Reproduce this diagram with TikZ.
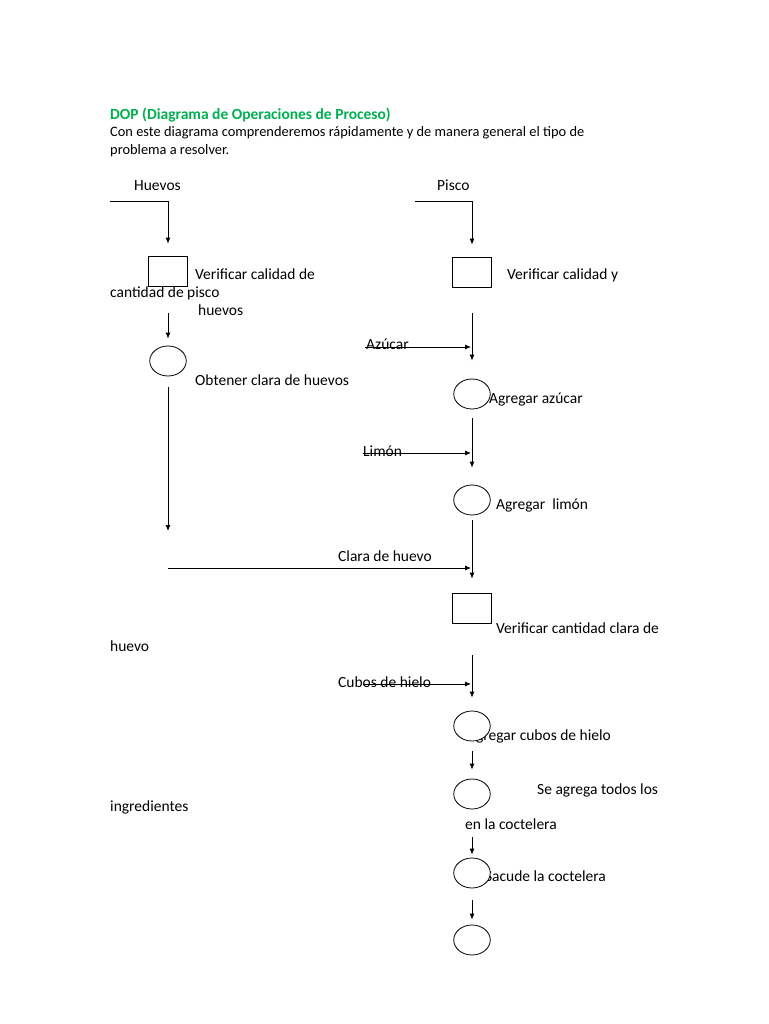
\documentclass[tikz,border=0pt]{standalone}
\usepackage{fontspec}
\setmainfont{Carlito}
\usepackage{tikz}
\usetikzlibrary{arrows.meta, positioning, calc, shapes.geometric}
\definecolor{dopgreen}{RGB}{0, 176, 80}

\begin{document}
\begin{tikzpicture}[
  x=1pt, y=-1pt,
  every node/.style={font=\fontsize{15.5}{18}\selectfont},
  txt/.style={anchor=base west, inner sep=0pt},
  head/.style={txt, font=\fontsize{14.4}{18}\selectfont},
  insp/.style={draw, line width=0.8pt, minimum width=39pt, minimum height=30pt, inner sep=0pt},
  oper/.style={draw, fill=white, ellipse, line width=0.8pt, minimum width=36.5pt, minimum height=30pt, inner sep=0pt},
  flow/.style={line width=0.8pt, -{Latex[length=6pt, width=5pt]}},
]
  \useasboundingbox (0,0) rectangle (768,1024);

  % encabezado
  \node[txt, text=dopgreen, font=\fontsize{15.5}{18}\selectfont\bfseries] (titulo) at (110,120) {DOP (Diagrama de Operaciones de Proceso)};
  \node[head] (intro1) at (110,137) {Con este diagrama comprenderemos rápidamente y de manera general el tipo de};
  \node[head] (intro2) at (110,155) {problema a resolver.};

  % columna huevos
  \node[txt] (huevos) at (134,191) {Huevos};
  \node[insp] (sqHuevos) at (168,271) {};
  \node[txt] (lblVerHuevos) at (195,279) {Verificar calidad de};
  \node[txt] (lblCantPisco) at (110,297) {cantidad de pisco};
  \node[txt] (lblHuevos2) at (198,315) {huevos};
  \node[oper] (opClara) at (168,361) {};
  \node[txt] (lblClara) at (195,385) {Obtener clara de huevos};
  \coordinate (inHuevos) at (110,201);
  \coordinate (finHuevos) at (168,531);
  \coordinate (iniClara) at (168,568);

  % columna pisco
  \node[txt] (pisco) at (437,191) {Pisco};
  \node[insp] (sqPisco) at (472,272) {};
  \node[txt] (lblVerPisco) at (507,279) {Verificar calidad y};
  \node[txt] (azucar) at (366,349) {Azúcar};
  \node[oper] (opAzucar) at (472,394) {};
  \node[txt] (lblAzucar) at (489,403) {Agregar azúcar};
  \node[txt] (limon) at (363,456) {Limón};
  \node[oper] (opLimon) at (472,500) {};
  \node[txt] (lblLimon) at (496,509) {Agregar\ \ limón};
  \node[txt] (claraHuevo) at (338,561) {Clara de huevo};
  \node[insp] (sqClara) at (472,608) {};
  \node[txt] (lblVerClara) at (496,633) {Verificar cantidad clara de};
  \node[txt] (lblHuevo3) at (110,651) {huevo};
  \node[txt] (hielo) at (338,687) {Cubos de hielo};
  \node[txt, anchor=base east] (lblHielo) at (611,740) {Agregar cubos de hielo};
  \node[oper] (opHielo) at (472,726) {};
  \node[txt] (lblTodos) at (537,794) {Se agrega todos los};
  \node[txt] (lblIngr) at (110,811) {ingredientes};
  \node[oper] (opTodos) at (472,794) {};
  \node[txt] (lblCoct) at (465,829) {en la coctelera};
  \node[txt, anchor=base east] (lblSacude) at (606,881) {Sacude la coctelera};
  \node[oper] (opSacude) at (472,873) {};
  \node[oper] (opFin) at (472,940) {};
  \coordinate (inPisco) at (415,201);

  % flechas izquierda
  \draw[flow] (inHuevos) -| ([yshift=12pt]sqHuevos.north);
  \draw[flow] ([yshift=-27pt]sqHuevos.south) -- ([yshift=7pt]opClara.north);
  \draw[flow] ([yshift=-11pt]opClara.south) -- (finHuevos);
  \draw[flow] (iniClara) -- ([xshift=-1pt]opLimon.center |- iniClara);

  % flechas derecha
  \draw[flow] (inPisco) -| ([yshift=12pt]sqPisco.north);
  \draw[flow] ([yshift=-26pt]sqPisco.south) -- ([yshift=18pt]opAzucar.north);
  \draw[flow] ([xshift=-1pt, yshift=2pt]azucar.base west) -- ([xshift=-1pt, yshift=2pt]opAzucar.center |- azucar.base west);
  \draw[flow] ([yshift=-9pt]opAzucar.south) -- ([yshift=17pt]opLimon.north);
  \draw[flow] ([yshift=3pt]limon.base west) -- ([xshift=-1pt, yshift=3pt]opLimon.center |- limon.base west);
  \draw[flow] ([yshift=-5pt]opLimon.south) -- ([yshift=14pt]sqClara.north);
  \draw[flow] ([yshift=-32pt]sqClara.south) -- ([yshift=13pt]opHielo.north);
  \draw[flow] ([xshift=25pt, yshift=3pt]hielo.base west) -- ([xshift=-1pt, yshift=3pt]opHielo.center |- hielo.base west);
  \draw[flow] ([yshift=-10pt]opHielo.south) -- ([yshift=9pt]opTodos.north);
  \draw[flow] ([yshift=-28pt]opTodos.south) -- ([yshift=3pt]opSacude.north);
  \draw[flow] ([yshift=-12pt]opSacude.south) -- ([yshift=5pt]opFin.north);
\end{tikzpicture}
\end{document}
